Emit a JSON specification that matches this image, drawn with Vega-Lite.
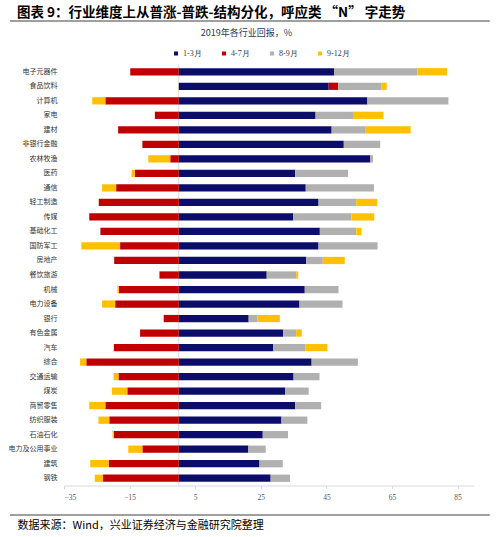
{
  "$schema": "https://vega.github.io/schema/vega-lite/v6.json",
  "width": 410,
  "height": 421,
  "autosize": {"type": "none"},
  "padding": {"left": 64, "top": 64.5, "right": 26, "bottom": 51.5},
  "background": "white",
  "config": {"view": {"stroke": null}, "axis": {"grid": false}},
  "title": {
    "text": "图表 9：行业维度上从普涨-普跌-结构分化，呼应类 “N” 字走势",
    "anchor": "start",
    "frame": "group",
    "dx": -47,
    "dy": 1,
    "offset": 2,
    "font": "Noto Sans CJK SC",
    "fontSize": 13.5,
    "fontWeight": "bold",
    "color": "#000000"
  },
  "resolve": {
    "axis": {"x": "independent", "y": "independent"},
    "scale": {"y": "independent"}
  },
  "layer": [
    {
      "data": {"values": [{"z": 0}]},
      "mark": {"type": "rule", "color": "#d9d9d9", "strokeWidth": 1},
      "encoding": {
        "x": {
          "field": "z",
          "type": "quantitative",
          "scale": {"domain": [-35, 90], "nice": false, "zero": false},
          "axis": {
            "orient": "top",
            "offset": 43.5,
            "labels": false,
            "ticks": false,
            "grid": false,
            "domain": false,
            "title": "2019年各行业回报，%",
            "titleFont": "Noto Sans CJK SC",
            "titleFontSize": 9,
            "titleFontWeight": "normal",
            "titleColor": "#1f3864",
            "titleAlign": "center",
            "titleBaseline": "middle",
            "titleX": 182,
            "titleY": 11
          }
        }
      }
    },
    {
      "data": {"values": [{"a": -51.5, "b": 94.8}]},
      "mark": {"type": "rule", "color": "#7f7f7f", "strokeWidth": 1.3},
      "encoding": {
        "x": {"field": "a", "type": "quantitative", "axis": null},
        "x2": {"field": "b"},
        "y": {"value": -43.5}
      }
    },
    {
      "data": {"values": [{"a": -51.5, "b": 94.8}]},
      "mark": {"type": "rule", "color": "#7f7f7f", "strokeWidth": 1.3},
      "encoding": {
        "x": {"field": "a", "type": "quantitative", "axis": null},
        "x2": {"field": "b"},
        "y": {"value": 450.5}
      }
    },
    {
      "data": {
        "values": [
          {"ind": "电子元器件", "1-3月": 47.4, "4-7月": -14.8, "8-9月": 25.3, "9-12月": 9.1},
          {"ind": "食品饮料", "1-3月": 45.7, "4-7月": 2.9, "8-9月": 13.1, "9-12月": 1.7},
          {"ind": "计算机", "1-3月": 57.5, "4-7月": -22.4, "8-9月": 24.7, "9-12月": -4.0},
          {"ind": "家电", "1-3月": 41.7, "4-7月": -7.3, "8-9月": 11.4, "9-12月": 9.3},
          {"ind": "建材", "1-3月": 46.6, "4-7月": -18.5, "8-9月": 10.2, "9-12月": 13.9},
          {"ind": "非银行金融", "1-3月": 50.3, "4-7月": -11.1, "8-9月": 11.1, "9-12月": 0},
          {"ind": "农林牧渔", "1-3月": 58.4, "4-7月": -2.6, "8-9月": 0.8, "9-12月": -6.7},
          {"ind": "医药", "1-3月": 35.5, "4-7月": -13.4, "8-9月": 16.1, "9-12月": -1.0},
          {"ind": "通信", "1-3月": 38.7, "4-7月": -19.1, "8-9月": 20.8, "9-12月": -4.3},
          {"ind": "轻工制造", "1-3月": 42.6, "4-7月": -24.4, "8-9月": 11.5, "9-12月": 6.4},
          {"ind": "传媒", "1-3月": 34.9, "4-7月": -27.3, "8-9月": 17.7, "9-12月": 7.0},
          {"ind": "基础化工", "1-3月": 43.0, "4-7月": -23.9, "8-9月": 11.1, "9-12月": 1.6},
          {"ind": "国防军工", "1-3月": 42.6, "4-7月": -17.9, "8-9月": 18.0, "9-12月": -11.8},
          {"ind": "房地产", "1-3月": 38.8, "4-7月": -19.7, "8-9月": 5.1, "9-12月": 6.7},
          {"ind": "餐饮旅游", "1-3月": 26.8, "4-7月": -5.9, "8-9月": 9.0, "9-12月": 0.6},
          {"ind": "机械", "1-3月": 38.4, "4-7月": -18.3, "8-9月": 10.3, "9-12月": -0.4},
          {"ind": "电力设备", "1-3月": 36.8, "4-7月": -19.4, "8-9月": 13.1, "9-12月": -4.0},
          {"ind": "银行", "1-3月": 21.3, "4-7月": -4.6, "8-9月": 2.7, "9-12月": 6.8},
          {"ind": "有色金属", "1-3月": 31.8, "4-7月": -11.8, "8-9月": 4.0, "9-12月": 1.7},
          {"ind": "汽车", "1-3月": 28.8, "4-7月": -19.8, "8-9月": 9.8, "9-12月": 6.7},
          {"ind": "综合", "1-3月": 40.5, "4-7月": -28.2, "8-9月": 14.1, "9-12月": -1.9},
          {"ind": "交通运输", "1-3月": 35.0, "4-7月": -18.4, "8-9月": 7.9, "9-12月": -1.5},
          {"ind": "煤炭", "1-3月": 32.4, "4-7月": -15.7, "8-9月": 7.2, "9-12月": -4.7},
          {"ind": "商贸零售", "1-3月": 35.5, "4-7月": -22.4, "8-9月": 7.9, "9-12月": -4.9},
          {"ind": "纺织服装", "1-3月": 31.3, "4-7月": -21.2, "8-9月": 7.9, "9-12月": -3.3},
          {"ind": "石油石化", "1-3月": 25.6, "4-7月": -19.8, "8-9月": 7.7, "9-12月": -0.4},
          {"ind": "电力及公用事业", "1-3月": 21.2, "4-7月": -11.1, "8-9月": 5.3, "9-12月": -4.3},
          {"ind": "建筑", "1-3月": 24.6, "4-7月": -21.4, "8-9月": 7.1, "9-12月": -5.6},
          {"ind": "钢铁", "1-3月": 28.0, "4-7月": -23.1, "8-9月": 5.9, "9-12月": -2.5}
        ]
      },
      "transform": [
        {"fold": ["1-3月", "4-7月", "8-9月", "9-12月"], "as": ["period", "value"]}
      ],
      "mark": {"type": "bar"},
      "encoding": {
        "y": {
          "field": "ind",
          "type": "nominal",
          "sort": null,
          "scale": {"paddingInner": 0.5, "paddingOuter": 0.25},
          "axis": {
            "title": null,
            "ticks": false,
            "domain": false,
            "labelFont": "Noto Sans CJK SC",
            "labelFontSize": 7,
            "labelColor": "#333333",
            "labelPadding": 7
          }
        },
        "x": {
          "field": "value",
          "type": "quantitative",
          "stack": "zero",
          "scale": {"domain": [-35, 90], "nice": false, "zero": false},
          "axis": {
            "orient": "bottom",
            "values": [-35, -15, 5, 25, 45, 65, 85],
            "grid": false,
            "domainColor": "#d9d9d9",
            "tickColor": "#d9d9d9",
            "tickSize": 3,
            "labelFont": "Liberation Serif",
            "labelFontSize": 7.5,
            "labelColor": "#595959",
            "labelPadding": 5,
            "title": "数据来源：Wind，兴业证券经济与金融研究院整理",
            "titleFont": "Noto Sans CJK SC",
            "titleFontSize": 11,
            "titleFontWeight": "normal",
            "titleColor": "#000000",
            "titleAlign": "left",
            "titleBaseline": "middle",
            "titleAnchor": "start",
            "titleX": -47,
            "titleY": 40
          }
        },
        "color": {
          "field": "period",
          "type": "nominal",
          "sort": ["1-3月", "4-7月", "8-9月", "9-12月"],
          "scale": {
            "domain": ["1-3月", "4-7月", "8-9月", "9-12月"],
            "range": ["#0c0c6a", "#c00000", "#b0b0b0", "#ffc000"]
          },
          "legend": {
            "orient": "none",
            "direction": "horizontal",
            "legendX": 108,
            "legendY": -15,
            "title": null,
            "symbolType": "square",
            "symbolSize": 16,
            "symbolStrokeWidth": 0,
            "labelFont": "Liberation Serif",
            "labelFontSize": 8,
            "labelColor": "#404040",
            "labelOffset": 3,
            "columnPadding": 18
          }
        }
      }
    }
  ]
}
